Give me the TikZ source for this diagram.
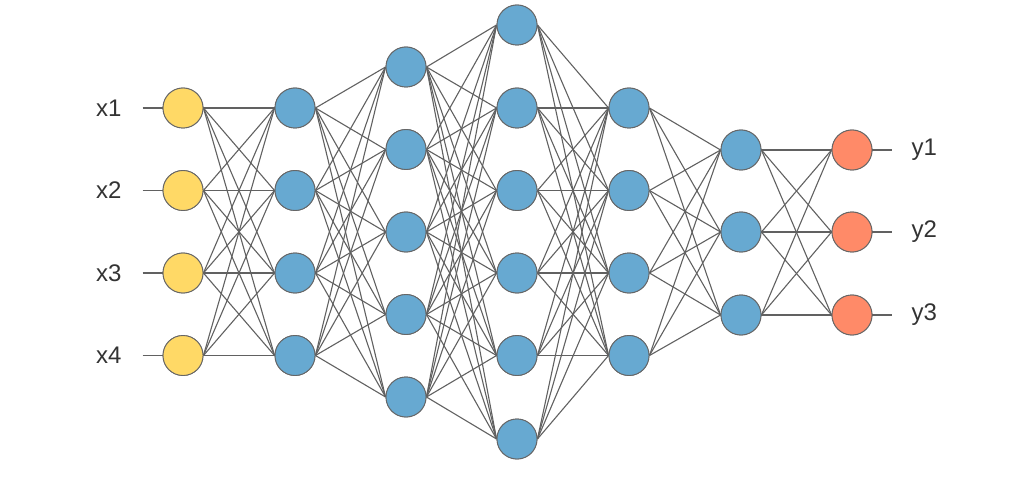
\documentclass[tikz,border=0pt]{standalone}
\usepackage{fontspec}
\setmainfont{Liberation Sans}
\begin{document}
\begin{tikzpicture}[x=1pt,y=-1pt,
  neuron/.style={circle,draw=black!60,line width=0.9pt,minimum size=40pt,inner sep=0pt},
  inn/.style={neuron,fill=inyellow},
  hid/.style={neuron,fill=hidblue},
  outn/.style={neuron,fill=outorange},
  edge/.style={draw=black!62,line width=1.1pt},
  lbl/.style={font=\fontsize{24}{28}\selectfont,text=black!80,inner sep=0pt}]
\definecolor{inyellow}{HTML}{FFD966}
\definecolor{hidblue}{HTML}{67A9D1}
\definecolor{outorange}{HTML}{FF8A68}
\useasboundingbox (0,0) rectangle (1024,478);
% layers
\foreach \i/\y in {1/108,2/190.5,3/273,4/355.5} \node[inn] (a\i) at (183,\y) {};
\foreach \i/\y in {1/108,2/190.5,3/273,4/355.5} \node[hid] (b\i) at (295,\y) {};
\foreach \i/\y in {1/67,2/149.5,3/232,4/314.5,5/397} \node[hid] (c\i) at (406,\y) {};
\foreach \i/\y in {1/25,2/108,3/190.5,4/273,5/355.5,6/439} \node[hid] (d\i) at (517,\y) {};
\foreach \i/\y in {1/108,2/190.5,3/273,4/355.5} \node[hid] (e\i) at (629,\y) {};
\foreach \i/\y in {1/150,2/232,3/315} \node[hid] (f\i) at (741,\y) {};
\foreach \i/\y in {1/150,2/232,3/315} \node[outn] (g\i) at (852,\y) {};
% edges
\foreach \i in {1,...,4} \foreach \j in {1,...,4} \draw[edge] (a\i.east) -- (b\j.west);
\foreach \i in {1,...,4} \foreach \j in {1,...,5} \draw[edge] (b\i.east) -- (c\j.west);
\foreach \i in {1,...,5} \foreach \j in {1,...,6} \draw[edge] (c\i.east) -- (d\j.west);
\foreach \i in {1,...,6} \foreach \j in {1,...,4} \draw[edge] (d\i.east) -- (e\j.west);
\foreach \i in {1,...,4} \foreach \j in {1,...,3} \draw[edge] (e\i.east) -- (f\j.west);
\foreach \i in {1,...,3} \foreach \j in {1,...,3} \draw[edge] (f\i.east) -- (g\j.west);
% redraw nodes on top of edges
\foreach \i/\y in {1/108,2/190.5,3/273,4/355.5} \node[inn] at (183,\y) {};
\foreach \i/\y in {1/108,2/190.5,3/273,4/355.5} \node[hid] at (295,\y) {};
\foreach \i/\y in {1/67,2/149.5,3/232,4/314.5,5/397} \node[hid] at (406,\y) {};
\foreach \i/\y in {1/25,2/108,3/190.5,4/273,5/355.5,6/439} \node[hid] at (517,\y) {};
\foreach \i/\y in {1/108,2/190.5,3/273,4/355.5} \node[hid] at (629,\y) {};
\foreach \i/\y in {1/150,2/232,3/315} \node[hid] at (741,\y) {};
\foreach \i/\y in {1/150,2/232,3/315} \node[outn] at (852,\y) {};
% input labels
\foreach \i in {1,...,4} {
  \coordinate (ai-\i) at ([xshift=-20pt]a\i.west);
  \draw[edge] (ai-\i) -- (a\i.west);
  \node[lbl,anchor=east] (xl\i) at ([xshift=-21pt]ai-\i) {x\i};
}
\foreach \i in {1,...,3} {
  \coordinate (go-\i) at ([xshift=20pt]g\i.east);
  \draw[edge] (g\i.east) -- (go-\i);
  \node[lbl,anchor=west] (yl\i) at ([xshift=19pt]go-\i) {y\i};
}
\end{tikzpicture}
\end{document}
